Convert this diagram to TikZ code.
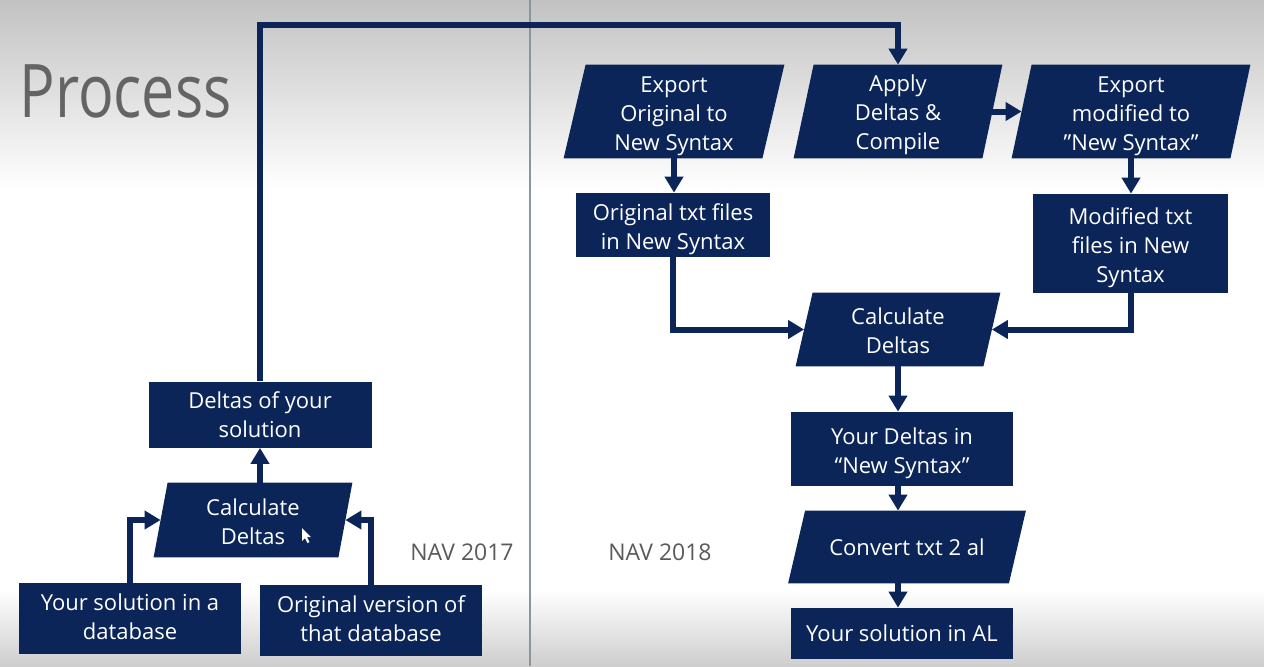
\documentclass[tikz,border=0pt]{standalone}
\usepackage{fontspec}
\setmainfont{Open Sans}
\newfontfamily\procfont[FakeStretch=0.8]{Open Sans}
\usetikzlibrary{arrows.meta,backgrounds}
\definecolor{navy}{RGB}{12,37,88}
\definecolor{labelgray}{RGB}{90,90,90}
\definecolor{procgray}{RGB}{100,100,100}
\definecolor{topgray}{RGB}{194,194,194}
\definecolor{botgray}{RGB}{206,206,206}
\definecolor{divgray}{RGB}{140,148,158}
\newcommand\bxfont{\fontsize{11}{14.5}\selectfont}
% vertical nudges of node text: \dn moves the text down, \up moves it up
\newcommand\dn[1]{\rule{0pt}{\dimexpr 8.4pt+#1*2\relax}}
\newcommand\up[1]{\rule[\dimexpr -#1*2\relax]{0pt}{0pt}}
\begin{document}
\begin{tikzpicture}[x=0.5pt,y=-0.5pt,
  box/.style={fill=navy,text=white,inner sep=0pt,align=center,font=\bxfont},
  pbox/.style={text=white,inner sep=0pt,align=center,font=\bxfont},
  parafill/.style={fill=navy},
  conn/.style={draw=navy,line width=3pt,-{Triangle[width=9pt,length=8pt]}},
  navlabel/.style={text=labelgray,inner sep=0pt,anchor=base west,font=\fontsize{11.5}{14}\selectfont}]
\useasboundingbox (0,0) rectangle (1264,666);

% nodes: left part (NAV 2017)
\node[box,minimum width=111.5pt,minimum height=33pt] (delt) at (260,414.5) {Deltas of your\\solution};
\node[pbox,minimum width=92pt,minimum height=37pt] (calcL) at (253,520) {\dn{0.6pt}Calculate\\Deltas};
\node[box,minimum width=111pt,minimum height=35.5pt] (ysol) at (130,618.5) {Your solution in a\\database\up{1pt}};
\node[box,minimum width=111pt,minimum height=35.5pt] (orig) at (371,620.5) {Original version of\\that database\up{1pt}};

% nodes: right part (NAV 2018)
\node[pbox,minimum width=99pt,minimum height=46.5pt] (eorig) at (674,111.5) {\dn{2pt}Export\\Original to\\New Syntax};
\node[pbox,minimum width=94pt,minimum height=46.5pt] (apply) at (898,111.5) {\dn{1.5pt}Apply\\Deltas \&\\Compile};
\node[pbox,minimum width=109pt,minimum height=46.5pt] (emod) at (1131,111.5) {\dn{2pt}Export\\modified to\\"New Syntax"};
\node[box,minimum width=97pt,minimum height=32pt] (otxt) at (673,225) {\dn{2pt}Original txt files\\in New Syntax};
\node[box,minimum width=97.5pt,minimum height=49.5pt] (mtxt) at (1130.5,243.5) {\dn{2pt}Modified txt\\files in New\\Syntax};
\node[pbox,minimum width=93.5pt,minimum height=36.5pt] (calcR) at (898,329.5) {\dn{0.5pt}Calculate\\Deltas};
\node[box,minimum width=111pt,minimum height=37pt] (ydel) at (902,449) {\dn{2pt}Your Deltas in\\“New Syntax”};
\node[pbox,minimum width=110pt,minimum height=36pt] (conv) at (907,547) {Convert txt 2 al};
\node[box,minimum width=111pt,minimum height=25.5pt] (yal) at (902,633.5) {Your solution in AL};

% titles
\node[anchor=base west,inner sep=0pt,text=procgray,font=\procfont\fontsize{37}{40}\selectfont] (proc) at (19,117) {Process};
\node[navlabel] (nav17) at (410,560) {NAV 2017};
\node[navlabel] (nav18) at (608,560) {NAV 2018};

\coordinate (topY) at (0,25);

% background layer: page, divider, parallelograms
\begin{scope}[on background layer]
  \fill[white] (0,0) rectangle (1264,666);
  \shade[top color=topgray,bottom color=white] (0,0) rectangle (1264,190);
  \shade[top color=white,bottom color=botgray] (0,590) rectangle (1264,666);
  \draw[divgray,line width=1pt] (530,0) -- (530,666);
  \foreach \n/\s in {calcL/3.5,eorig/5.5,apply/5,emod/5,calcR/4.25,conv/4.25}
    \fill[parafill] ([xshift=-\s pt]\n.south west) -- ([xshift=-\s pt]\n.south east)
      -- ([xshift=\s pt]\n.north east) -- ([xshift=\s pt]\n.north west) -- cycle;
\end{scope}

% connectors
\draw[conn] (delt.north) |- (apply.north |- topY) -- (apply.north);
\draw[conn] (calcL.north -| delt.south) -- (delt.south);
\draw[conn] (ysol.north) |- (calcL.west);
\draw[conn] (orig.north) |- (calcL.east);
\draw[conn] (eorig.south) -- (eorig.south |- otxt.north);
\draw[conn] (apply.east) -- (emod.west);
\draw[conn] (emod.south) -- (emod.south |- mtxt.north);
\draw[conn] (otxt.south) |- (calcR.west);
\draw[conn] (mtxt.south) |- (calcR.east);
\draw[conn] (calcR.south) -- (calcR.south |- ydel.north);
\draw[conn] (ydel.south -| calcR.south) -- (conv.north -| calcR.south);
\draw[conn] (conv.south -| calcR.south) -- (yal.north -| calcR.south);

% mouse pointer
\fill[white] (302,528) -- (302,541) -- (305,538) -- (307.5,543) -- (309.5,542) -- (307,537) -- (311,537) -- cycle;
\end{tikzpicture}
\end{document}
